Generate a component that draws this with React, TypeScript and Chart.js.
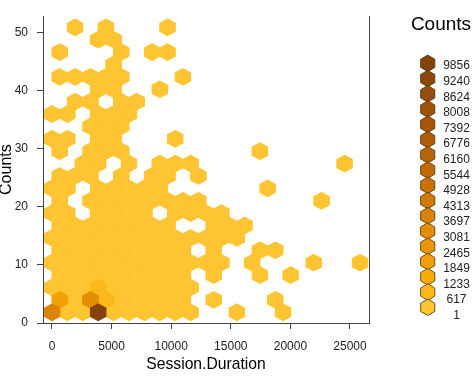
import React, { useEffect, useRef } from "react";
import { Chart, registerables } from "chart.js";

Chart.register(...registerables);

const FONT = "'Liberation Sans', Arial, Helvetica, sans-serif";

// Axis tick labels
const xTicks = [0, 5000, 10000, 15000, 20000, 25000];
const yTicks = [0, 10, 20, 30, 40, 50];

// Legend (count breaks and colours, lowest first)
const legendBreaks = [1, 617, 1233, 1849, 2465, 3081, 3697, 4313, 4928, 5544, 6160, 6776, 7392, 8008, 8624, 9240, 9856];
const legendColors = [
  "#FEC431", "#FCB81A", "#F8AC0C", "#F3A006", "#EC9605", "#E48C06", "#DB8307", "#D27A07",
  "#C97208", "#C06A08", "#B76309", "#AE5C09", "#A6560A", "#9E510A", "#964C0A", "#8E470A", "#85420A",
];

// Hexbin grid: column width in Session.Duration units, row height in Counts units
const binWidthX = 1292;
const binHeightY = 2.131;
const firstRowY = 1.85;

// Occupied hex cells: for each row (bottom to top) the column indices that hold data
const rowCells: number[][] = [
  [0, 1, 2, 3, 4, 5, 6, 7, 8, 9, 12, 15],
  [0, 1, 2, 3, 4, 5, 6, 7, 8, 10, 14],
  [0, 1, 2, 3, 4, 5, 6, 7, 8, 9],
  [0, 1, 2, 3, 4, 5, 6, 7, 8, 10, 13, 15],
  [0, 1, 2, 3, 4, 5, 6, 7, 8, 9, 10, 11, 13, 17, 20],
  [0, 1, 2, 3, 4, 5, 6, 7, 8, 10, 13, 14],
  [0, 1, 2, 3, 4, 5, 6, 7, 8, 9, 10, 11, 12],
  [0, 1, 2, 3, 4, 5, 6, 7, 10, 11, 12],
  [0, 1, 3, 4, 5, 6, 8, 9, 10, 11],
  [0, 2, 3, 4, 5, 6, 7, 8, 9, 17],
  [0, 1, 3, 4, 5, 6, 7, 14],
  [0, 1, 2, 4, 6, 7, 9],
  [2, 3, 5, 7, 8, 9, 19],
  [0, 2, 3, 4, 13],
  [0, 1, 3, 4, 8],
  [2, 3, 4],
  [0, 1, 3, 4, 5],
  [1, 2, 4, 5],
  [3, 4, 7],
  [0, 1, 2, 3, 4, 8],
  [4],
  [0, 4, 6, 7],
  [3, 4],
  [1, 3, 7],
];

// Cells with high counts (row, column, count); all others are low counts
const denseRows = [0, 0, 1, 1, 1, 2];
const denseCols = [3, 0, 2, 0, 3, 3];
const denseCounts = [9856, 4000, 3600, 2000, 1000, 800];
const sparseCount = 120;

type Pt = { x: number; y: number; count: number };

function buildPoints(): Pt[] {
  const pts: Pt[] = [];
  rowCells.forEach((cols, r) => {
    cols.forEach((c) => {
      let count = sparseCount;
      for (let i = 0; i < denseRows.length; i++) {
        if (denseRows[i] === r && denseCols[i] === c) count = denseCounts[i];
      }
      pts.push({
        x: (r % 2 === 1 ? binWidthX / 2 : 0) + c * binWidthX,
        y: firstRowY + r * binHeightY,
        count,
      });
    });
  });
  return pts;
}

function colorFor(count: number): string {
  let lvl = 0;
  for (let i = 0; i < legendBreaks.length; i++) if (count >= legendBreaks[i]) lvl = i;
  return legendColors[lvl];
}

function hexPath(ctx: CanvasRenderingContext2D, cx: number, cy: number, hw: number, R: number) {
  ctx.beginPath();
  ctx.moveTo(cx, cy - R);
  ctx.lineTo(cx + hw, cy - R / 2);
  ctx.lineTo(cx + hw, cy + R / 2);
  ctx.lineTo(cx, cy + R);
  ctx.lineTo(cx - hw, cy + R / 2);
  ctx.lineTo(cx - hw, cy - R / 2);
  ctx.closePath();
}

export default function App() {
  const ref = useRef<HTMLCanvasElement | null>(null);

  useEffect(() => {
    if (!ref.current) return;
    const points = buildPoints();

    const hexPlugin = {
      id: "hexCells",
      beforeDatasetsDraw(chart: any) {
        const { ctx, chartArea, scales } = chart;
        const xs = scales.x;
        const ys = scales.y;
        const meta = chart.getDatasetMeta(0);
        ctx.save();
        ctx.beginPath();
        ctx.rect(chartArea.left + 1, chartArea.top, chartArea.right - chartArea.left - 1, chartArea.bottom - chartArea.top);
        ctx.clip();
        // draw light cells first, dark cells on top
        const order = points.map((_, i) => i).sort((a, b) => points[a].count - points[b].count);
        order.forEach((i) => {
          const el = meta.data[i];
          const p = points[i];
          const cx = el.x;
          const cy = el.y;
          const hw = Math.abs(xs.getPixelForValue(p.x + binWidthX / 2) - cx);
          const R = Math.abs(ys.getPixelForValue(p.y + (binHeightY * 2) / 3) - cy);
          const col = colorFor(p.count);
          hexPath(ctx, cx, cy, hw, R);
          ctx.fillStyle = col;
          ctx.fill();
          ctx.strokeStyle = col;
          ctx.lineWidth = 1.1;
          ctx.lineJoin = "miter";
          ctx.stroke();
        });
        ctx.restore();
      },
      afterDraw(chart: any) {
        const { ctx, chartArea } = chart;
        ctx.save();
        // right frame line
        ctx.strokeStyle = "#444";
        ctx.lineWidth = 1;
        ctx.beginPath();
        const rx = Math.round(chartArea.right) + 0.5;
        ctx.moveTo(rx, chartArea.top);
        ctx.lineTo(rx, Math.round(chartArea.bottom) + 1);
        ctx.stroke();

        // legend
        ctx.fillStyle = "#000";
        ctx.font = `19px ${FONT}`;
        ctx.textAlign = "center";
        ctx.textBaseline = "middle";
        ctx.fillText("Counts", 441, 25);

        const n = legendBreaks.length;
        const hexX = 427.7;
        const topHexY = 63.3;
        const hexStep = 15.25;
        for (let i = 0; i < n; i++) {
          const lvl = n - 1 - i;
          const cy = topHexY + i * hexStep;
          hexPath(ctx, hexX, cy, 7.1, 8.2);
          ctx.fillStyle = legendColors[lvl];
          ctx.fill();
          ctx.strokeStyle = "#4a3300";
          ctx.lineWidth = 0.8;
          ctx.stroke();
        }
        ctx.font = `12px ${FONT}`;
        ctx.fillStyle = "#222";
        for (let i = 0; i < n; i++) {
          const lvl = n - 1 - i;
          ctx.fillText(String(legendBreaks[lvl]), 456.5, 66 + i * 15.6);
        }
        ctx.restore();
      },
    };

    const chart = new Chart(ref.current, {
      type: "scatter",
      data: {
        datasets: [
          {
            data: points.map((p) => ({ x: p.x, y: p.y })),
            pointRadius: 0,
            pointHoverRadius: 0,
            backgroundColor: "rgba(0,0,0,0)",
            borderColor: "rgba(0,0,0,0)",
          },
        ],
      },
      options: {
        animation: false,
        responsive: false,
        maintainAspectRatio: false,
        events: [],
        layout: { padding: { left: 0, right: 105, top: 0, bottom: 0 } },
        plugins: { legend: { display: false }, tooltip: { enabled: false } },
        scales: {
          x: {
            type: "linear",
            min: -755,
            max: 26594,
            afterBuildTicks: (s: any) => {
              s.ticks = xTicks.map((v) => ({ value: v }));
            },
            afterFit: (s: any) => {
              s.height = 68;
            },
            grid: { drawOnChartArea: false, drawTicks: true, tickLength: 6, color: "#444", lineWidth: 1 },
            border: { display: true, color: "#444", width: 1 },
            ticks: {
              padding: 10,
              color: "#222",
              font: { family: FONT, size: 12 },
              maxRotation: 0,
              autoSkip: false,
              callback: (v: any) => String(v),
            },
            title: {
              display: true,
              text: "Session.Duration",
              color: "#000",
              font: { family: FONT, size: 15.7 },
              padding: { top: 0, bottom: 17 },
            },
          },
          y: {
            type: "linear",
            min: 0,
            max: 52.78,
            afterBuildTicks: (s: any) => {
              s.ticks = yTicks.map((v) => ({ value: v }));
            },
            afterFit: (s: any) => {
              s.width = 43;
            },
            grid: { drawOnChartArea: false, drawTicks: true, tickLength: 6, color: "#444", lineWidth: 1 },
            border: { display: true, color: "#444", width: 1 },
            ticks: {
              padding: 9,
              color: "#222",
              font: { family: FONT, size: 12 },
              autoSkip: false,
              callback: (v: any) => String(v),
            },
            title: {
              display: true,
              text: "Counts",
              color: "#000",
              font: { family: FONT, size: 16, lineHeight: 0.8 },
              padding: 0,
            },
          },
        },
      },
      plugins: [hexPlugin],
    } as any);

    return () => chart.destroy();
  }, []);

  return (
    <div style={{ position: "fixed", left: 0, top: 0, width: 474, height: 391, background: "#fff" }}>
      <canvas ref={ref} width={474} height={391} style={{ width: 474, height: 391, display: "block" }} />
    </div>
  );
}
